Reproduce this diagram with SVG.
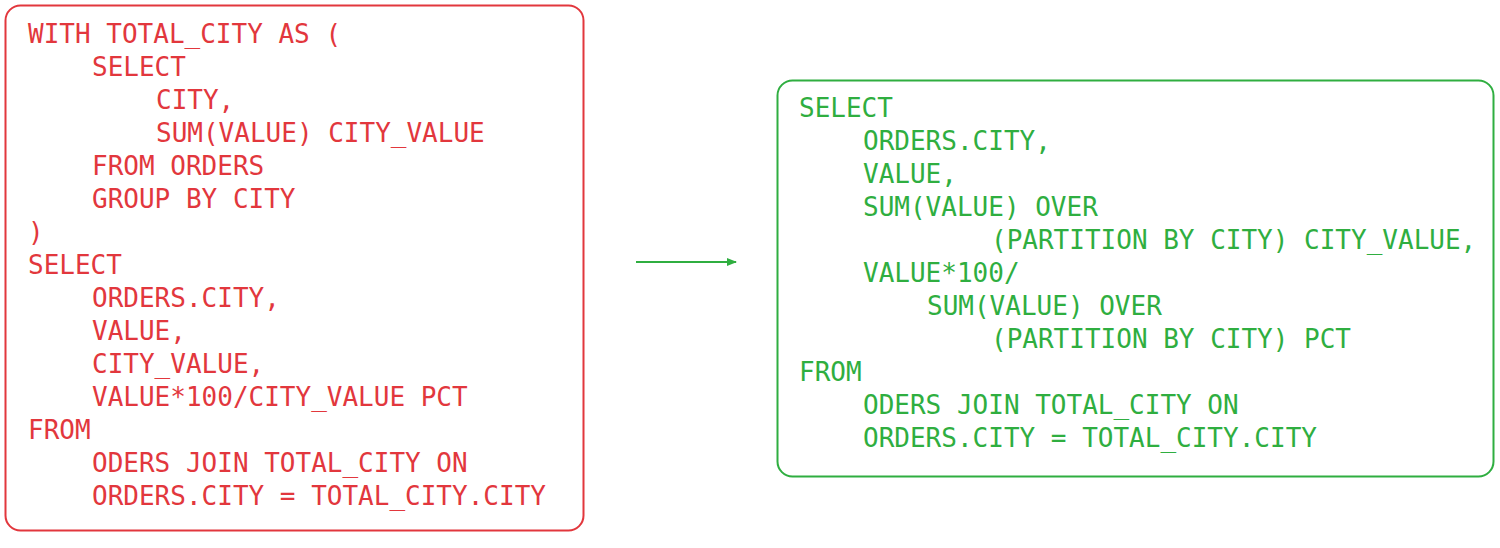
<svg xmlns="http://www.w3.org/2000/svg" width="1500" height="548" viewBox="0 0 1500 548">
<defs>
<style>
.r{fill:#e2373d}
.g{fill:#2fae40}
text{font-family:"DejaVu Sans Mono","Liberation Mono",monospace;font-size:26px;font-weight:500}
</style>
<marker id="ah" markerWidth="10" markerHeight="10" refX="9" refY="5" orient="auto" markerUnits="userSpaceOnUse"><path d="M0,1 L10,5 L0,9 Z" fill="#2fae40"/></marker>
</defs>
<rect width="1500" height="548" fill="#fff"/>
<g id="left">
<rect x="5.5" y="5.5" width="578" height="525" rx="15" fill="none" stroke="#e2373d" stroke-width="2"/>
<g class="r">
<text x="28" y="43">WITH TOTAL_CITY AS (</text>
<text x="92" y="76">SELECT</text>
<text x="156" y="109">CITY,</text>
<text x="156" y="142">SUM(VALUE) CITY_VALUE</text>
<text x="92" y="175">FROM ORDERS</text>
<text x="92" y="208">GROUP BY CITY</text>
<text x="28" y="241">)</text>
<text x="28" y="274">SELECT</text>
<text x="92" y="307">ORDERS.CITY,</text>
<text x="92" y="340">VALUE,</text>
<text x="92" y="373">CITY_VALUE,</text>
<text x="92" y="406">VALUE*100/CITY_VALUE PCT</text>
<text x="28" y="439">FROM</text>
<text x="92" y="472">ODERS JOIN TOTAL_CITY ON</text>
<text x="92" y="505">ORDERS.CITY = TOTAL_CITY.CITY</text>
</g>
</g>
<g id="right">
<rect x="777.5" y="80.5" width="716" height="396" rx="15" fill="none" stroke="#2fae40" stroke-width="2"/>
<g class="g">
<text x="799" y="117">SELECT</text>
<text x="863" y="150">ORDERS.CITY,</text>
<text x="863" y="183">VALUE,</text>
<text x="863" y="216">SUM(VALUE) OVER</text>
<text x="991" y="249">(PARTITION BY CITY) CITY_VALUE,</text>
<text x="863" y="282">VALUE*100/</text>
<text x="927" y="315">SUM(VALUE) OVER</text>
<text x="991" y="348">(PARTITION BY CITY) PCT</text>
<text x="799" y="381">FROM</text>
<text x="863" y="414">ODERS JOIN TOTAL_CITY ON</text>
<text x="863" y="447">ORDERS.CITY = TOTAL_CITY.CITY</text>
</g>
</g>
<g id="connectors">
<line x1="636" y1="262" x2="736" y2="262" stroke="#2fae40" stroke-width="2" marker-end="url(#ah)"/>
</g>
</svg>
